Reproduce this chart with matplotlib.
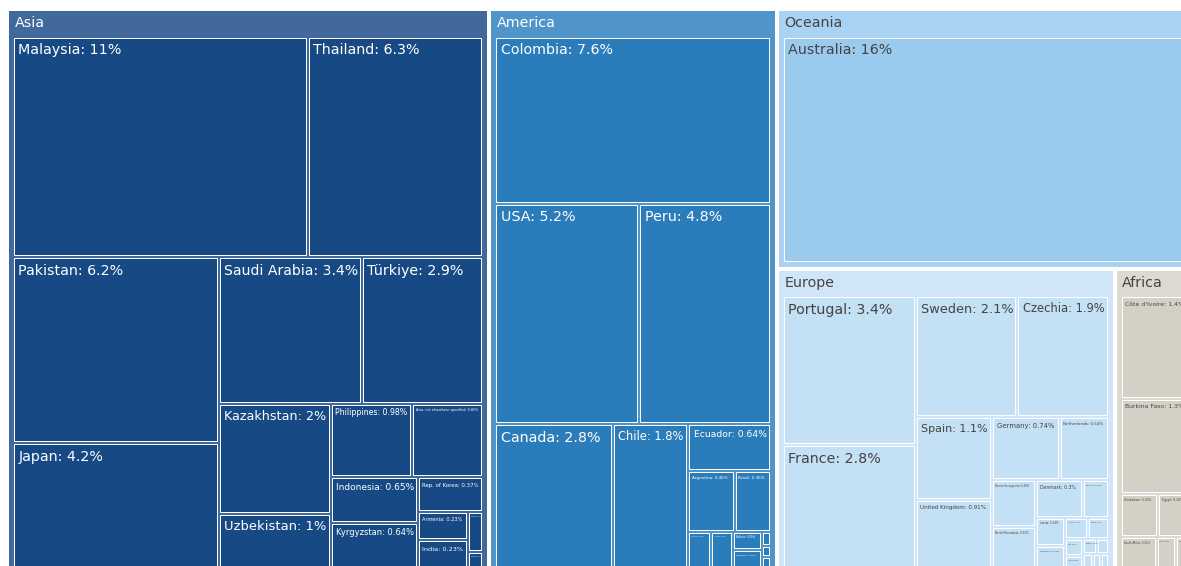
import matplotlib
matplotlib.use("Agg")
import matplotlib.pyplot as plt
from matplotlib.patches import Rectangle

# ---------------- data (percent of total) ----------------
continents = ["Asia", "America", "Oceania", "Europe", "Africa"]

asia_countries = ["Malaysia", "Thailand", "Pakistan", "Japan", "Saudi Arabia", "Türkiye",
                  "Kazakhstan", "Uzbekistan", "Philippines", "Asia, not elsewhere specified",
                  "Indonesia", "Kyrgyzstan", "Rep. of Korea", "Armenia", "India",
                  "Georgia", "Mongolia"]
asia_values = [10.56, 6.3, 6.2, 4.2, 3.4, 2.9, 2.0, 1.0, 0.98, 0.85, 0.65, 0.64, 0.37,
               0.23, 0.23, 0.10, 0.04]

america_countries = ["Colombia", "USA", "Peru", "Canada", "Chile", "Ecuador", "Argentina",
                     "Brazil", "Mexico", "Uruguay", "Bolivia", "Paraguay", "Costa Rica",
                     "Guatemala", "Panama"]
america_values = [7.6, 5.25, 4.8, 2.8, 1.8, 0.64, 0.46, 0.36, 0.14, 0.13, 0.09, 0.09,
                  0.02, 0.015, 0.015]

oceania_countries = ["Australia"]
oceania_values = [16.2]

europe_countries = ["Portugal", "France", "Sweden", "Czechia", "Spain", "United Kingdom",
                    "Germany", "Netherlands", "Bosnia Herzegovina", "North Macedonia",
                    "Denmark", "Switzerland", "Latvia", "Ukraine", "Lithuania", "Poland",
                    "Italy", "Austria", "Belgium", "Slovakia", "Hungary", "Greece", "Serbia"]
europe_values = [3.44, 2.84, 2.12, 1.92, 1.1, 0.91, 0.74, 0.54, 0.36, 0.32, 0.30, 0.17, 0.14,
                 0.115, 0.085, 0.08, 0.05, 0.04, 0.035, 0.03, 0.025, 0.02, 0.02]

africa_countries = ["Côte d'Ivoire", "Burkina Faso", "Zimbabwe", "Egypt", "South Africa",
                    "Ghana", "Kenya"]
africa_values = [1.37, 1.28, 0.32, 0.26, 0.22, 0.12, 0.08]

children = {
    "Asia": (asia_countries, asia_values),
    "America": (america_countries, america_values),
    "Oceania": (oceania_countries, oceania_values),
    "Europe": (europe_countries, europe_values),
    "Africa": (africa_countries, africa_values),
}

header_colors = {"Asia": "#42699b", "America": "#4f95c9", "Oceania": "#aad3f3",
                 "Europe": "#d0e5f7", "Africa": "#dbd9d0"}
leaf_colors = {"Asia": "#174a84", "America": "#2b7cba", "Oceania": "#9acbef",
               "Europe": "#c4e0f5", "Africa": "#d3d1c5"}
text_colors = {"Asia": "white", "America": "white", "Oceania": "#444444",
               "Europe": "#444444", "Africa": "#444444"}


# ---------------- squarified treemap (d3 style, ratio 1) ----------------
def squarify(values, x0, y0, x1, y1, ratio=1.0):
    n = len(values)
    rects = [None] * n
    value = float(sum(values))
    i0 = i1 = 0
    while i0 < n:
        dx, dy = x1 - x0, y1 - y0
        sum_v = values[i1]
        i1 += 1
        minv = maxv = sum_v
        alpha = max(dy / dx, dx / dy) / (value * ratio)
        beta = sum_v * sum_v * alpha
        min_ratio = max(maxv / beta, beta / minv)
        while i1 < n:
            nv = values[i1]
            sum_v += nv
            minv = min(minv, nv)
            maxv = max(maxv, nv)
            beta = sum_v * sum_v * alpha
            new_ratio = max(maxv / beta, beta / minv)
            if new_ratio > min_ratio:
                sum_v -= nv
                break
            min_ratio = new_ratio
            i1 += 1
        if dx < dy:
            h = dy * sum_v / value
            xx = x0
            for k in range(i0, i1):
                w = dx * values[k] / sum_v
                rects[k] = (xx, y0, xx + w, y0 + h)
                xx += w
            y0 += h
        else:
            w = dx * sum_v / value
            yy = y0
            for k in range(i0, i1):
                h = dy * values[k] / sum_v
                rects[k] = (x0, yy, x0 + w, yy + h)
                yy += h
            x0 += w
        value -= sum_v
        i0 = i1
    return rects


W, H = 1181, 566
fig = plt.figure(figsize=(W / 100, H / 100), dpi=100)
ax = fig.add_axes([0, 0, 1, 1])
ax.set_xlim(0, W)
ax.set_ylim(H, 0)
ax.axis("off")
renderer = fig.canvas.get_renderer()

PX2PT = 0.72
INSET = 1.5
FONT_PX = 14.3
total = sum(sum(v) for _, v in children.values())


def draw_box(c, color):
    x0, y0, x1, y1 = c
    ax.add_patch(Rectangle((x0 + INSET, y0 + INSET), x1 - x0 - 2 * INSET, y1 - y0 - 2 * INSET,
                           facecolor=color, edgecolor="white", linewidth=1.0 * PX2PT))


def put_text(c, s, color, lpad, maxpx=FONT_PX):
    x0, y0, x1, y1 = c
    left = x0 + INSET
    top = y0 + INSET
    w = x1 - x0 - 2 * INSET
    h = y1 - y0 - 2 * INSET
    t = ax.text(left + lpad, top, s, fontsize=maxpx * PX2PT, color=color,
                family="DejaVu Sans", ha="left", va="baseline")
    tw = t.get_window_extent(renderer).width
    scale = min(1.0, (w - 7) / tw, (h - 4) / (maxpx * 1.25))
    if scale <= 0.03:
        t.remove()
        return
    fs = maxpx * scale
    t.set_fontsize(fs * PX2PT)
    t.set_position((left + lpad * min(1, scale + 0.3), top + 3 + 0.97 * fs))


cont_values = [sum(children[c][1]) for c in continents]
top_cells = squarify(cont_values, 6.5, 8.5, 1194.5, 574.0)

PAD_L, PAD_R, PAD_T, PAD_B = 6.0, 6.0, 27.5, 6.0
for cont, cell in zip(continents, top_cells):
    draw_box(cell, header_colors[cont])
    put_text((cell[0], cell[1], cell[2], cell[1] + 40), cont, text_colors[cont], 6.5)
    names, vals = children[cont]
    x0, y0, x1, y1 = cell
    sub = squarify(vals, x0 + PAD_L, y0 + PAD_T, x1 - PAD_R, y1 - PAD_B)
    for name, v, sc in zip(names, vals, sub):
        draw_box(sc, leaf_colors[cont])
        pct = 100.0 * v / total
        put_text(sc, f"{name}: {pct:.2g}%", text_colors[cont], 4.5)

fig.savefig("out.png", dpi=100)
